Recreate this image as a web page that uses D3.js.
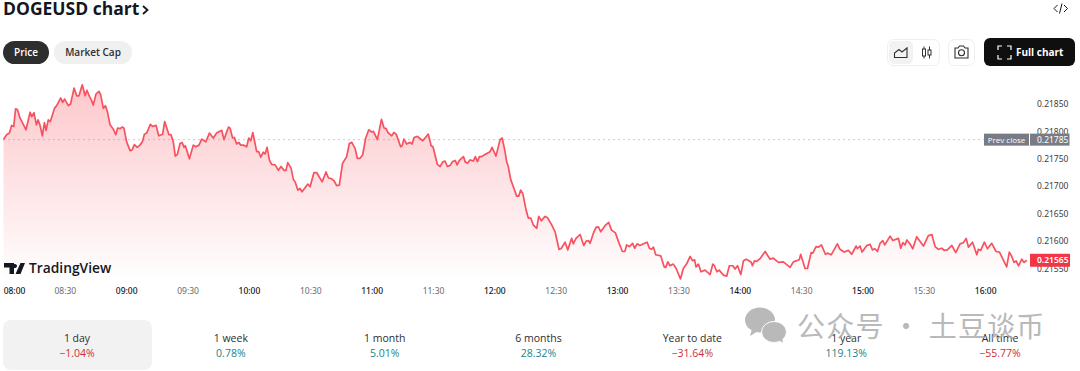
<!DOCTYPE html>
<html>
<head>
<meta charset="utf-8">
<title>DOGEUSD chart</title>
<script src="https://cdn.jsdelivr.net/npm/d3@7/dist/d3.min.js"></script>
<style>
    html, body { margin: 0; padding: 0; background: #fff; }
    svg { display: block; font-family: "Open Sans", "Noto Sans", sans-serif; }
    .axis path, .axis line { display: none; }
    .axis text { font-family: "Noto Sans", sans-serif; font-size: 8.5px; fill: #3d3d3d; }
    .x-axis text { fill: #6a6a6a; }
    .x-axis text.hour { fill: #131722; font-weight: 500; }
</style>
</head>
<body>
<div id="chart"></div>
<script>
// minutes since 08:00
const minutes = [
    0,1.5,2.9,4,5,5.9,6.8,8.1,9,11,13,13.8,14.9,16.1,16.9,17.8,19,20,20.8,21.9,22.9,24.9,26,28,28.9,29.9,
    31.7,32.8,34.5,35.8,36.9,38.5,39.9,40.8,42,42.8,43.9,45.2,46.7,47.5,48.8,49.8,50.8,52.1,53.7,54.9,55.8,57,58.1,58.9,
    60.2,61.9,62.8,64,65.4,66.7,67.9,68.9,70,71.8,72.9,74.6,75.9,77.8,78.8,80.9,81.9,83,84,85,86.3,87.3,88.3,88.9,90.9,
    92.8,94,95.6,96.9,98.9,100.7,102.6,104.2,106.7,107.8,110,110.8,112,112.9,114,115,116,117.3,118.9,119.9,120.9,121.9,
    123.8,124.8,125.8,127,127.9,128.9,130,131.1,132.8,134.4,135.7,137.2,138.1,139,140.6,141.7,142.7,143.9,145,146,148.8,149.9,
    151.8,153.1,155.8,157.7,158.9,160.3,161.6,162.9,164.2,165.8,167.8,169.1,170.3,171.9,173,174.3,175.6,177.1,178.6,179.9,
    180.9,182.8,184.8,186.1,187.1,188,189.8,190.9,192,194.2,194.9,195.8,197.1,198.8,199.8,200.7,202.4,205,207.7,209.1,210,
    212.1,213.5,214.7,215.9,217,218.4,219.6,220.9,221.8,222.9,224.9,225.8,226.8,228.1,229.7,230.7,231.7,232.7,233.8,235.4,237.9,238.9,
    240.8,242.8,243.8,245.1,246,246.8,248,249.3,250.9,251.9,252.9,253.9,255.5,256.6,257.8,259.1,260.7,261.7,263,264.8,265.9,268.1,269.7,
    271.6,272.6,274.6,275.9,277.8,278.6,279.9,281.9,283.7,284.9,286,286.8,288.4,289.7,290.9,292,294.1,295.9,297.3,299.2,
    300.7,302.6,303.8,304.7,306,307.6,308.6,309.8,311.2,312.9,314.7,315.8,316.9,317.8,318.9,321.4,323,323.8,324.8,325.9,327.5,328.9,
    331,332.4,334.1,335.7,337,337.9,338.6,339.8,341,343,345.5,346.8,347.6,348.8,349.9,352,353.6,354.9,356.6,357.7,358.9,
    360.5,361.8,363.1,365.5,366.2,367.2,368.3,369.9,372.4,374.8,376.4,378.9,381.3,384.6,386.2,389.1,389.8,391.9,393.1,394.9,395.7,397.3,398.5,399.9,
    401.9,402.9,404.7,407.7,409,411,413.1,414.7,416.9,417.5,418.8,419.8,422.1,423.7,424.9,426.1,427.3,428.6,429.9,430.9,433.5,434.8,437.6,438.7,439.7,
    440.8,441.7,443,444.6,446.5,449.8,452.2,453.9,455.5,457.1,458.8,459.9,461.5,463.7,465.6,467.7,469.3,470.7,471.8,473.8,475.9,476.7,477.8,479.6,
    481.1,483.2,485.3,487,488.4,490.5,491.8,493,494.1,495.1,496.3,497.9,499,500.3
];

const prices = [
    .21785,.21794,.21797,.21811,.21809,.21841,.21840,.21824,.21818,.21803,.21835,.21827,.21834,.21812,.21821,.21812,.21792,.21816,.21802,.21821,.21818,.21842,.21847,.21861,.21853,.21859,
    .21847,.21850,.21879,.21865,.21865,.21885,.21865,.21875,.21864,.21859,.21848,.21868,.21873,.21867,.21842,.21847,.21836,.21812,.21804,.21794,.21806,.21805,.21808,.21806,
    .21781,.21765,.21766,.21776,.21771,.21775,.21781,.21795,.21797,.21813,.21809,.21811,.21792,.21795,.21818,.21794,.21794,.21781,.21755,.21758,.21778,.21780,.21771,.21774,.21750,
    .21775,.21772,.21775,.21786,.21781,.21797,.21788,.21797,.21802,.21785,.21808,.21806,.21788,.21789,.21777,.21780,.21775,.21775,.21772,.21788,.21783,.21798,
    .21763,.21763,.21753,.21762,.21759,.21771,.21748,.21740,.21739,.21729,.21736,.21729,.21729,.21743,.21733,.21713,.21707,.21693,.21696,.21690,.21704,.21699,
    .21725,.21725,.21708,.21726,.21715,.21714,.21710,.21701,.21702,.21742,.21754,.21778,.21780,.21769,.21751,.21751,.21757,.21788,.21803,.21799,
    .21800,.21785,.21822,.21806,.21805,.21798,.21792,.21798,.21795,.21772,.21774,.21786,.21777,.21780,.21777,.21789,.21791,.21783,.21795,.21774,.21772,
    .21740,.21736,.21744,.21746,.21736,.21738,.21745,.21747,.21739,.21747,.21754,.21744,.21742,.21748,.21746,.21754,.21745,.21754,.21754,.21758,.21763,.21771,
    .21755,.21785,.21788,.21766,.21745,.21736,.21712,.21699,.21682,.21682,.21693,.21687,.21657,.21642,.21642,.21629,.21623,.21645,.21637,.21645,.21643,.21629,.21617,
    .21585,.21586,.21598,.21584,.21605,.21595,.21605,.21612,.21592,.21600,.21601,.21596,.21614,.21625,.21626,.21617,.21628,.21634,.21620,.21615,
    .21599,.21581,.21581,.21593,.21590,.21596,.21587,.21595,.21592,.21595,.21598,.21587,.21585,.21589,.21575,.21573,.21553,.21552,.21562,.21555,.21558,.21550,
    .21531,.21550,.21559,.21572,.21564,.21566,.21553,.21558,.21544,.21547,.21539,.21558,.21555,.21544,.21547,.21538,.21536,.21555,.21555,.21549,.21555,
    .21539,.21564,.21567,.21562,.21555,.21564,.21563,.21568,.21581,.21567,.21569,.21561,.21562,.21552,.21562,.21566,.21576,.21550,.21550,.21579,.21578,.21590,.21589,.21593,
    .21576,.21578,.21575,.21595,.21585,.21580,.21583,.21576,.21591,.21586,.21591,.21580,.21592,.21594,.21584,.21586,.21581,.21596,.21601,.21593,.21609,.21601,.21605,.21587,.21597,
    .21593,.21602,.21596,.21586,.21608,.21591,.21610,.21612,.21590,.21585,.21587,.21583,.21584,.21592,.21579,.21595,.21597,.21605,.21589,.21598,.21575,.21585,.21583,.21598,
    .21586,.21596,.21581,.21580,.21569,.21553,.21580,.21572,.21561,.21564,.21555,.21567,.21561,.21565
];

const timeTicks = [0,30,60,90,120,150,180,210,240,270,300,330,360,390,420,450,480];
const timeLabels = ["08:00","08:30","09:00","09:30","10:00","10:30","11:00","11:30","12:00","12:30","13:00","13:30","14:00","14:30","15:00","15:30","16:00"];
const priceTicks = [0.2155,0.216,0.2165,0.217,0.2175,0.218,0.2185];
const prevClose = 0.21785;
const lastPrice = 0.21565;

const periods = ["1 day","1 week","1 month","6 months","Year to date","1 year","All time"];
const changes = [-1.04,0.78,5.01,28.32,-31.64,119.13,-55.77];

const width = 1080, height = 371;
const red = "#f7525f";

const svg = d3.select("#chart").append("svg")
    .attr("width", width)
    .attr("height", height);

const x = d3.scaleLinear().domain([0, 480]).range([3.5, 985.2]);
const y = d3.scaleLinear().domain([0.2155, 0.2185]).range([268.5, 104]);
const chartBottom = 277;

// gradient under the line
const defs = svg.append("defs");
const grad = defs.append("linearGradient")
    .attr("id", "area-fill")
    .attr("gradientUnits", "userSpaceOnUse")
    .attr("x1", 0).attr("x2", 0)
    .attr("y1", y(d3.max(prices))).attr("y2", chartBottom);
grad.append("stop").attr("offset", 0).attr("stop-color", red).attr("stop-opacity", 0.32);
grad.append("stop").attr("offset", 1).attr("stop-color", red).attr("stop-opacity", 0.01);

const points = d3.zip(minutes, prices);

svg.append("path")
    .datum(points)
    .attr("fill", "url(#area-fill)")
    .attr("d", d3.area().x(d => x(d[0])).y0(chartBottom).y1(d => y(d[1])));

svg.append("line")
    .attr("x1", x(0)).attr("x2", 984)
    .attr("y1", y(prevClose)).attr("y2", y(prevClose))
    .attr("stroke", "#9598a1")
    .attr("stroke-width", 1)
    .attr("stroke-dasharray", "1 4");

svg.append("path")
    .datum(points)
    .attr("fill", "none")
    .attr("stroke", red)
    .attr("stroke-width", 1.7)
    .attr("stroke-linejoin", "round")
    .attr("d", d3.line().x(d => x(d[0])).y(d => y(d[1])));

// axes
const xAxis = svg.append("g")
    .attr("class", "axis x-axis")
    .attr("transform", "translate(0,288)")
    .call(d3.axisBottom(x)
        .tickValues(timeTicks)
        .tickSize(0)
        .tickFormat((d, i) => timeLabels[i]));
xAxis.selectAll("text")
    .classed("hour", (d, i) => i % 2 === 0)
    .attr("y", 0)
    .attr("dy", "0.71em")
    .attr("dx", (d, i) => i === 0 ? 10.5 : 0);

svg.append("g")
    .attr("class", "axis y-axis")
    .attr("transform", "translate(1037,0)")
    .call(d3.axisRight(y)
        .tickValues(priceTicks)
        .tickSize(0)
        .tickPadding(0)
        .tickFormat(d3.format(".5f")));

// price labels on the right
svg.append("rect").attr("x", 984).attr("y", y(prevClose) - 6).attr("width", 85.5).attr("height", 12).attr("fill", "#787b86");
svg.append("rect").attr("x", 1029).attr("y", y(prevClose) - 6).attr("width", 1).attr("height", 12).attr("fill", "#fff");
svg.append("text").attr("x", 1006.5).attr("y", y(prevClose) + 3).attr("text-anchor", "middle")
    .style("font-size", "8px").style("fill", "#fff").text("Prev close");
svg.append("text").attr("x", 1037).attr("y", y(prevClose) + 3)
    .style("font-family", "Noto Sans").style("font-size", "8.5px").style("fill", "#fff").text(d3.format(".5f")(prevClose));

svg.append("rect").attr("x", 1030).attr("y", y(lastPrice) - 6.5).attr("width", 40).attr("height", 13).attr("fill", "#f23645");
svg.append("text").attr("x", 1037).attr("y", y(lastPrice) + 3)
    .style("font-family", "Noto Sans").style("font-size", "8.5px").style("font-weight", 600).style("fill", "#fff").text(d3.format(".5f")(lastPrice));

// header
svg.append("text").attr("x", 3).attr("y", 15)
    .style("font-size", "17.5px").style("font-weight", 700).style("fill", "#131722")
    .text("DOGEUSD chart");
svg.append("path").attr("d", "M143 6 L147.5 10 L143 14").attr("fill", "none").attr("stroke", "#131722").attr("stroke-width", 1.8);

svg.append("rect").attr("x", 3).attr("y", 41).attr("width", 46).attr("height", 23).attr("rx", 11.5).attr("fill", "#2e2e2e");
svg.append("text").attr("x", 26).attr("y", 56).attr("text-anchor", "middle").style("font-size", "10px").style("font-weight", 600).style("fill", "#fff").text("Price");
svg.append("rect").attr("x", 54).attr("y", 41).attr("width", 78).attr("height", 23).attr("rx", 11.5).attr("fill", "#f0f0f0");
svg.append("text").attr("x", 93).attr("y", 56).attr("text-anchor", "middle").style("font-size", "10px").style("font-weight", 600).style("fill", "#2e2e2e").text("Market Cap");

// toolbar
svg.append("path").attr("d", "M1057.5 5 L1054 8.5 L1057.5 12 M1062 3.5 L1059.5 13.5 M1064 5 L1067.5 8.5 L1064 12").attr("fill", "none").attr("stroke", "#131722").attr("stroke-width", 1);
svg.append("rect").attr("x", 887.5).attr("y", 39.5).attr("width", 52).attr("height", 26).attr("rx", 6).attr("fill", "#fff").attr("stroke", "#efefef");
svg.append("rect").attr("x", 889).attr("y", 41).attr("width", 24).attr("height", 23).attr("rx", 5).attr("fill", "#f2f2f2");
svg.append("path").attr("d", "M894.5 57.5 V53 L899 49.5 L902 52 L907 48 V57.5 Z").attr("fill", "none").attr("stroke", "#2e2e2e").attr("stroke-width", 1.1);
svg.append("path").attr("d", "M924 46.5 V58.5 M929.5 46.5 V58.5").attr("stroke", "#2e2e2e").attr("stroke-width", 1);
svg.append("rect").attr("x", 922.5).attr("y", 49).attr("width", 3).attr("height", 7).attr("fill", "#fff").attr("stroke", "#2e2e2e");
svg.append("rect").attr("x", 928).attr("y", 50).attr("width", 3).attr("height", 5).attr("fill", "#fff").attr("stroke", "#2e2e2e");

svg.append("rect").attr("x", 948.5).attr("y", 39.5).attr("width", 26).attr("height", 26).attr("rx", 6).attr("fill", "#fff").attr("stroke", "#efefef");
svg.append("path").attr("d", "M955 48 H958 L959.5 46 H963.5 L965 48 H968 V58 H955 Z").attr("fill", "none").attr("stroke", "#2e2e2e").attr("stroke-width", 1.1);
svg.append("circle").attr("cx", 961.5).attr("cy", 52.7).attr("r", 3).attr("fill", "none").attr("stroke", "#2e2e2e").attr("stroke-width", 1.1);

svg.append("rect").attr("x", 984).attr("y", 38).attr("width", 91).attr("height", 28).attr("rx", 6).attr("fill", "#0f0f0f");
svg.append("path").attr("d", "M998 50 V46 H1002 M1007 46 H1011 V50 M1011 55 V59 H1007 M1002 59 H998 V55").attr("fill", "none").attr("stroke", "#fff").attr("stroke-width", 1.2);
svg.append("text").attr("x", 1016).attr("y", 56).style("font-size", "10px").style("font-weight", 700).style("fill", "#fff").text("Full chart");

// TradingView logo
svg.append("path").attr("d", "M4 263 H14 V274 H9.5 V267.5 H4 Z M17 266 A2 2 0 1 1 17 265.9 Z M20.5 263 H25 L20.5 274 H15.5 Z").attr("fill", "#131722");
svg.append("text").attr("x", 29).attr("y", 272.5).style("font-size", "13.8px").style("font-weight", 600).style("fill", "#131722").text("TradingView");

// period cells
const cellX = d3.scalePoint().domain(periods).range([77, 1000]);
svg.append("rect").attr("x", 3).attr("y", 320).attr("width", 149).attr("height", 50).attr("rx", 8).attr("fill", "#f2f2f2");

const cells = svg.selectAll("g.cell").data(periods).enter().append("g")
    .attr("class", "cell")
    .attr("transform", d => "translate(" + cellX(d) + ",0)")
    .attr("text-anchor", "middle");
cells.append("text").attr("y", 342).style("font-size", "10.5px").style("fill", "#2e2e2e").text(d => d);
cells.append("text").attr("y", 357).style("font-size", "10.5px")
    .style("fill", (d, i) => changes[i] < 0 ? "#cc2f3c" : "#22838a")
    .text((d, i) => (changes[i] < 0 ? "\u2212" : "") + d3.format(".2f")(Math.abs(changes[i])) + "%");

// watermark on top
const wm = svg.append("g").attr("fill", "#a8a8a8").attr("opacity", 0.8);
wm.append("ellipse").attr("cx", 760).attr("cy", 320).attr("rx", 15).attr("ry", 12.5);
wm.append("path").attr("d", "M752 329 L750 336 L758 331 Z");
wm.append("ellipse").attr("cx", 774).attr("cy", 332).attr("rx", 12.5).attr("ry", 10.5).attr("stroke", "#fff").attr("stroke-width", 1);
wm.append("path").attr("d", "M779 340 L783 343 L782 337 Z");
wm.append("text").attr("x", 797).attr("y", 337)
    .style("font-family", "Noto Sans CJK SC")
    .style("font-size", "28px")
    .style("letter-spacing", "1.2px")
    .text("公众号 · 土豆谈币");
</script>
</body>
</html>
